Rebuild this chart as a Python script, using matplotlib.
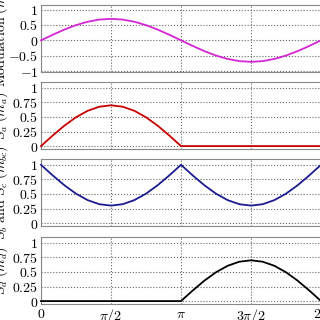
import matplotlib
matplotlib.use('Agg')
import matplotlib.pyplot as plt
import numpy as np

plt.rcParams['font.family'] = ['DejaVu Serif']
plt.rcParams['mathtext.fontset'] = 'cm'

# angle samples (degrees), every 15 deg over one period
angle_deg = [0, 15, 30, 45, 60, 75, 90, 105, 120, 135, 150, 165, 180,
             195, 210, 225, 240, 255, 270, 285, 300, 315, 330, 345, 360]

modulation = [0.0, 0.181, 0.350, 0.495, 0.606, 0.676, 0.700, 0.676, 0.606, 0.495, 0.350, 0.181, 0.0,
              -0.181, -0.350, -0.495, -0.606, -0.676, -0.700, -0.676, -0.606, -0.495, -0.350, -0.181, 0.0]
s_a = [0.0, 0.181, 0.350, 0.495, 0.606, 0.676, 0.700, 0.676, 0.606, 0.495, 0.350, 0.181, 0.0,
       0.0, 0.0, 0.0, 0.0, 0.0, 0.0, 0.0, 0.0, 0.0, 0.0, 0.0, 0.0]
s_bc = [1.0, 0.819, 0.650, 0.505, 0.394, 0.324, 0.300, 0.324, 0.394, 0.505, 0.650, 0.819, 1.0,
        0.819, 0.650, 0.505, 0.394, 0.324, 0.300, 0.324, 0.394, 0.505, 0.650, 0.819, 1.0]
s_d = [0.0, 0.0, 0.0, 0.0, 0.0, 0.0, 0.0, 0.0, 0.0, 0.0, 0.0, 0.0, 0.0,
       0.181, 0.350, 0.495, 0.606, 0.676, 0.700, 0.676, 0.606, 0.495, 0.350, 0.181, 0.0]

xticks_lbl = ['$0$', r'$\pi/2$', r'$\pi$', r'$3\pi/2$', r'$2\pi$']
ylabels = [r'$\mathrm{Modulation}\ (m)$', r'$S_a\ (m_a)$',
           r'$S_b\ \mathrm{and}\ S_c\ (m_{bc})$', r'$S_d\ (m_d)$']

theta = np.deg2rad(angle_deg)
series = [modulation, s_a, s_bc, s_d]
colors = ['#d426d4', '#c80000', '#1c1c90', 'black']

fig = plt.figure(figsize=(3.2, 3.2), dpi=100)
W = 320.0
tops = [5, 82, 159, 237]
h = 67
for i in range(4):
    ax = fig.add_axes([41 / W, 1 - (tops[i] + h) / W, 280 / W, h / W])
    ax.plot(theta, series[i], color=colors[i], lw=1.3, zorder=3, clip_on=False)
    ax.set_xlim(0, 2 * np.pi)
    if i == 0:
        ax.set_ylim(-1.03, 1.15)
        ax.set_yticks([-1, -0.5, 0, 0.5, 1])
        ax.set_yticklabels(['$-1$', '$-0.5$', '$0$', '$0.5$', '$1$'])
    else:
        ax.set_ylim(-0.05, 1.1)
        ax.set_yticks([0, 0.25, 0.5, 0.75, 1])
        ax.set_yticklabels(['$0$', '$0.25$', '$0.5$', '$0.75$', '$1$'])
    ax.set_xticks(np.arange(5) * np.pi / 2)
    if i == 3:
        ax.set_xticklabels(xticks_lbl)
    else:
        ax.set_xticklabels([])
    ax.grid(True, ls=':', color='#666666', lw=0.8)
    ax.tick_params(length=0, labelsize=10, pad=2)
    for s in ax.spines.values():
        s.set_color('#888888')
        s.set_linewidth(0.8)
    ax.set_ylabel(ylabels[i], fontsize=10)
    ax.yaxis.set_label_coords(-0.112, 0.5)

fig.savefig('out.png', dpi=100)
